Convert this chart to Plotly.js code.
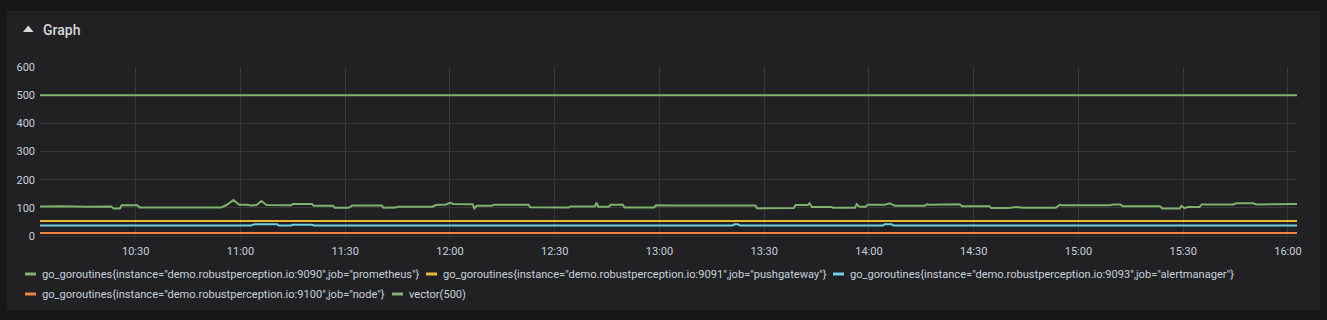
<!DOCTYPE html>
<html>
<head>
<meta charset="utf-8">
<script src="https://cdn.plot.ly/plotly-3.0.1.min.js"></script>
<style>
html,body{margin:0;padding:0;background:#161719;overflow:hidden;}
#chart{width:1327px;height:320px;}
</style>
</head>
<body>
<div id="chart"></div>
<script>
// ---------------- DATA ----------------
const DAY = '2024-01-01 ';
const seriesNames = [
  'go_goroutines{instance="demo.robustperception.io:9090",job="prometheus"}',
  'go_goroutines{instance="demo.robustperception.io:9091",job="pushgateway"}',
  'go_goroutines{instance="demo.robustperception.io:9093",job="alertmanager"}',
  'go_goroutines{instance="demo.robustperception.io:9100",job="node"}',
  'vector(500)'
];
const seriesColors = ['#7eb26d', '#eab839', '#6ed0e0', '#ef843c', '#7eb26d'];

const promTimes = ['10:02:36','10:09:00','10:16:00','10:23:00','10:23:40','10:25:30','10:26:00','10:30:30','10:31:10','10:37:00',
  '10:44:00','10:54:30','10:56:00','10:58:00','10:59:40','11:02:00','11:03:00','11:04:40','11:06:00','11:07:30',
  '11:14:30','11:15:00','11:20:30','11:21:00','11:26:30','11:27:00','11:31:00','11:32:00','11:40:30','11:41:00',
  '11:44:30','11:45:00','11:55:00','11:56:00','11:59:00','12:00:00','12:01:00','12:06:30','12:07:00','12:07:40',
  '12:12:00','12:12:30','12:22:30','12:23:00','12:28:40','12:29:00','12:34:00','12:34:30','12:41:30','12:42:00',
  '12:42:30','12:45:30','12:46:00','12:49:30','12:50:00','12:58:30','12:59:00','13:03:00','13:12:00','13:15:00',
  '13:24:00','13:27:30','13:28:00','13:38:30','13:39:00','13:42:30','13:43:00','13:43:40','13:49:20','13:49:40',
  '13:56:00','13:56:30','13:57:20','13:59:00','13:59:40','14:04:30','14:06:00','14:07:30','14:16:00','14:16:40',
  '14:17:00','14:25:30','14:26:00','14:26:40','14:34:30','14:35:00','14:40:00','14:42:00','14:44:00','14:53:30',
  '14:54:40','14:55:20','15:09:00','15:10:00','15:12:00','15:12:40','15:23:20','15:24:00','15:29:00','15:29:30',
  '15:30:20','15:31:20','15:34:40','15:35:20','15:44:20','15:45:10','15:50:00','15:51:00','16:01:00','16:02:36'];
const promValues = [105,106,104,105,98,98,109,109,101,102,
  101,101,110,128,111,111,108,110,124,110,
  109,114,114,107,107,100,100,108,108,100,
  101,104,104,110,112,118,114,113,98,107,
  107,111,111,102,102,101,101,105,105,118,
  104,104,111,111,101,101,109,108,108,110,
  109,108,98,99,110,110,116,103,103,100,
  100,113,104,104,111,111,116,107,107,113,
  111,111,113,106,106,99,99,103,100,100,
  111,109,109,112,112,106,106,98,98,107,
  99,103,103,112,112,116,116,112,112,114];

const pushTimes = ['10:02:36','12:08:30','12:09:00','12:10:40','12:11:00','16:02:36'];
const pushValues = [53,53,55,55,53,53];

const alertTimes = ['10:02:36','11:03:00','11:04:00','11:10:30','11:11:00','11:14:30','11:15:00','11:20:30','11:21:00',
  '12:18:00','12:18:30','12:21:00','12:21:30','13:21:00','13:21:30','13:22:30','13:23:00',
  '14:04:00','14:04:30','14:06:30','14:07:00','16:02:36'];
const alertValues = [37,37,42,42,37,37,40,40,37,
  37,39,39,37,37,42,42,37,
  37,42,42,37,37];

const nodeTimes = ['10:02:36','11:09:00','11:10:00','11:11:00','16:02:36'];
const nodeValues = [11,11,13,11,11];

const vectorTimes = ['10:02:36','16:02:36'];
const vectorValues = [500,500];

const yTickValues = [0,100,200,300,400,500,600];
const panelTitle = 'Graph';

// ---------------- LAYOUT ----------------
const W = 1327, H = 320;
const M = {l: 40, r: 30, t: 67, b: 84};
const PW = W - M.l - M.r, PH = H - M.t - M.b;
const px = x => (x - M.l) / PW;
const py = y => (H - M.b - y) / PH;

const allTimes = [promTimes, pushTimes, alertTimes, nodeTimes, vectorTimes];
const allValues = [promValues, pushValues, alertValues, nodeValues, vectorValues];

const traces = allTimes.map((ts, i) => ({
  type: 'scatter', mode: 'lines',
  x: ts.map(t => DAY + t), y: allValues[i],
  name: seriesNames[i],
  line: {color: seriesColors[i], width: 2},
  showlegend: false, hoverinfo: 'skip'
}));

const font = 'Roboto, "Open Sans", "DejaVu Sans", sans-serif';
const shapes = [
  {type: 'rect', xref: 'paper', yref: 'paper', layer: 'below',
   x0: px(7), x1: px(1320), y0: py(310), y1: py(11),
   fillcolor: '#212124', line: {width: 0}},
  {type: 'path', xref: 'paper', yref: 'paper',
   path: `M ${px(23)},${py(32)} L ${px(33.5)},${py(32)} L ${px(28.25)},${py(25.5)} Z`,
   fillcolor: '#d8d9da', line: {width: 0}}
];
const annotations = [
  {xref: 'paper', yref: 'paper', x: px(40.5), y: py(29.5), xanchor: 'left', yanchor: 'middle',
   text: panelTitle, showarrow: false,
   font: {family: font, size: 14, color: '#d8d9da', weight: 500}}
];
const legendPos = [[25, 274], [426, 274], [833, 274], [25, 294], [392, 294]];
seriesNames.forEach((name, i) => {
  const [lx, ly] = legendPos[i];
  shapes.push({type: 'rect', xref: 'paper', yref: 'paper',
    x0: px(lx), x1: px(lx + 11), y0: py(ly + 1.5), y1: py(ly - 1.5),
    fillcolor: seriesColors[i], line: {width: 0}});
  annotations.push({xref: 'paper', yref: 'paper', x: px(lx + 15), y: py(ly), xanchor: 'left', yanchor: 'middle',
    text: name, showarrow: false, font: {family: font, size: 11.1, color: '#c7d0d9'}});
});

const gridColor = '#37373a';
const layout = {
  width: W, height: H,
  margin: M,
  paper_bgcolor: '#161719',
  plot_bgcolor: 'rgba(0,0,0,0)',
  showlegend: false,
  xaxis: {
    type: 'date',
    range: [DAY + '10:02:36', DAY + '16:02:36'],
    tick0: DAY + '10:00:00', dtick: 30 * 60 * 1000,
    tickformat: '%H:%M',
    showgrid: true, gridcolor: gridColor, gridwidth: 1,
    zeroline: false, showline: false, ticks: '',
    ticklabelstandoff: 7,
    tickfont: {family: font, size: 11, color: '#c7d0d9'}
  },
  yaxis: {
    range: [0, 600],
    tickmode: 'array', tickvals: yTickValues, ticktext: yTickValues.map(String),
    showgrid: true, gridcolor: gridColor, gridwidth: 1,
    zeroline: true, zerolinecolor: gridColor, zerolinewidth: 1,
    showline: false, ticks: '',
    ticklabelstandoff: 4,
    tickfont: {family: font, size: 11, color: '#c7d0d9'}
  },
  shapes: shapes,
  annotations: annotations
};

Plotly.newPlot('chart', traces, layout, {staticPlot: true, displayModeBar: false});
</script>
</body>
</html>
